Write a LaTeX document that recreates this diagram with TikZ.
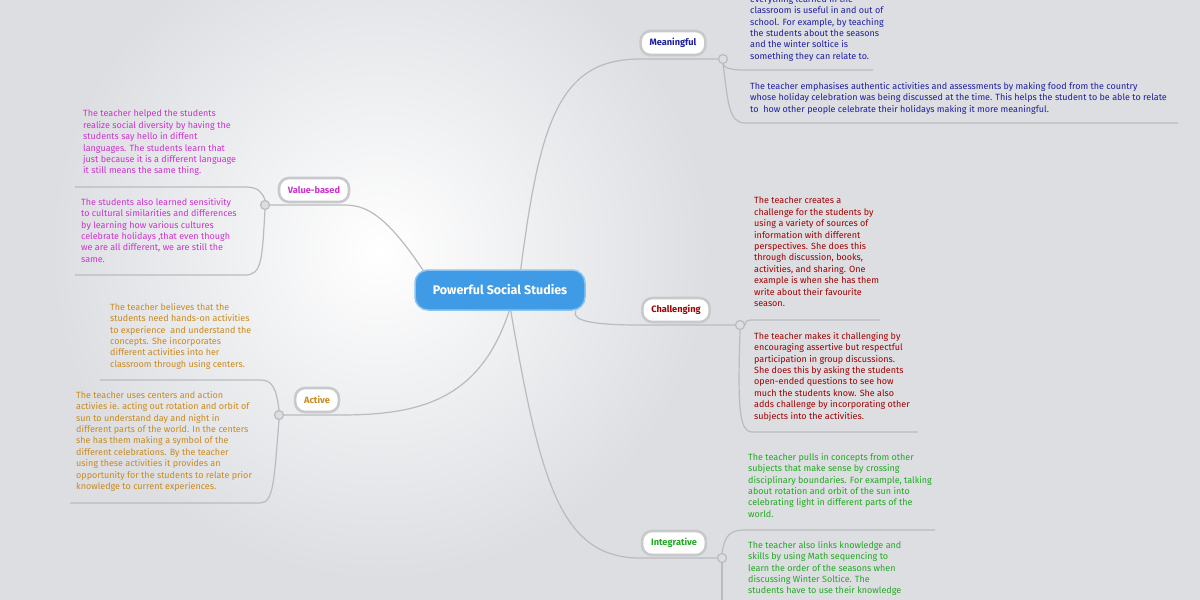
\documentclass[tikz,border=0pt]{standalone}
\usepackage{fontspec}
\setmainfont{Fira Sans}
\usetikzlibrary{shadows}
\definecolor{bgc}{HTML}{DCDEE2}
\definecolor{lnc}{HTML}{B9BBBE}
\definecolor{cmean}{HTML}{1E1EA0}
\definecolor{cval}{HTML}{CC33CC}
\definecolor{cact}{HTML}{C98A1E}
\definecolor{cchal}{HTML}{A00000}
\definecolor{cint}{HTML}{22A822}
\definecolor{cmain}{HTML}{3F9BE6}
\tikzset{
 topic/.style={draw=lnc!80, line width=2.6pt, fill=white, rounded corners=10pt, minimum height=24pt, inner xsep=9pt, font=\fontsize{9.2}{11}\selectfont\bfseries},
 txt/.style={align=left, anchor=north west, inner sep=0pt, font=\fontsize{9}{11.4}\selectfont},
 ln/.style={draw=lnc, line width=1.2pt},
 jc/.style={circle, draw=lnc, line width=1.2pt, fill=bgc, minimum size=9pt, inner sep=0pt},
}
\begin{document}
\begin{tikzpicture}[x=1pt,y=-1pt]
\useasboundingbox (0,0) rectangle (1200,600);
\clip (0,0) rectangle (1200,600);
\fill[bgc] (0,0) rectangle (1200,600);
\shade[inner color=white, outer color=bgc] (380,250) circle (330);
% central
\node[fill=cmain, draw=cmain!60!white, line width=1.5pt, rounded corners=13pt, minimum width=170pt, minimum height=40pt, text=white, font=\fontsize{12.5}{14}\selectfont\bfseries] (c) at (500,290) {Powerful Social Studies};
% topics
\node[topic, text=cmean] (m) at (673,43) {Meaningful};
\node[topic, text=cchal] (ch) at (676,310) {Challenging};
\node[topic, text=cint] (in) at (674,543) {Integrative};
\node[topic, text=cval] (v) at (314,190) {Value-based};
\node[topic, text=cact] (a) at (317,400) {Active};
% junctions
\node[jc] (jm) at (723,59) {};
\node[jc] (jch) at (740,325) {};
\node[jc] (jin) at (722,558) {};
\node[jc] (jv) at (265,205) {};
\node[jc] (ja) at (279,415) {};
% center to topics
\draw[ln] (c.north east) ++(-65,0) .. controls (540,120) and (560,59) .. (640,59) -- (jm.west);
\draw[ln] (c.south east) ++(-10,0) .. controls (570,322) and (600,325) .. (640,325) -- (jch.west);
\draw[ln] (c.south east) ++(-75,0) .. controls (540,480) and (560,558) .. (640,558) -- (jin.west);
\draw[ln] (c.west) ++(10,-18) .. controls (380,205) and (360,205) .. (340,205) -- (jv.east);
\draw[ln] (c.south west) ++(95,0) .. controls (480,400) and (420,415) .. (340,415) -- (ja.east);
% meaningful branches
\coordinate (m1) at (873,70); \coordinate (m2) at (1178,123);
\draw[ln] (jm.south) .. controls (725,68) and (730,70) .. (745,70) -- (m1);
\draw[ln] (jm.south) .. controls (728,100) and (728,123) .. (745,123) -- (m2);
\node[txt, text=cmean] (mt1) at (750,-5) {everything learned in the\\classroom is useful in and out of\\school. For example, by teaching\\the students about the seasons\\and the winter soltice is\\something they can relate to.};
\node[txt, text=cmean] (mt2) at (750,82) {The teacher emphasises authentic activities and assessments by making food from the country\\whose holiday celebration was being discussed at the time. This helps the student to be able to relate\\to\ \ how other people celebrate their holidays making it more meaningful.};
% challenging
\coordinate (c1) at (880,320); \coordinate (c2) at (918,432);
\draw[ln] (jch.east) .. controls (745,320) and (748,320) .. (755,320) -- (c1);
\draw[ln] (jch.south) .. controls (738,400) and (738,432) .. (752,432) -- (c2);
\node[txt, text=cchal] (ct1) at (754,197) {The teacher creates a\\challenge for the students by\\using a variety of sources of\\information with different\\perspectives. She does this\\through discussion, books,\\activities, and sharing. One\\example is when she has them\\write about their favourite\\season.};
\node[txt, text=cchal] (ct2) at (754,332) {The teacher makes it challenging by\\encouraging assertive but respectful\\participation in group discussions.\\She does this by asking the students\\open-ended questions to see how\\much the students know. She also\\adds challenge by incorporating other\\subjects into the activities.};
% integrative
\coordinate (i1) at (935,530);
\draw[ln] (jin.north) .. controls (725,535) and (730,530) .. (745,530) -- (i1);
\draw[ln] (jin.south) -- (722,610);
\node[txt, text=cint] (it1) at (748,453) {The teacher pulls in concepts from other\\subjects that make sense by crossing\\disciplinary boundaries. For example, talking\\about rotation and orbit of the sun into\\celebrating light in different parts of the\\world.};
\node[txt, text=cint] (it2) at (748,541) {The teacher also links knowledge and\\skills by using Math sequencing to\\learn the order of the seasons when\\discussing Winter Soltice. The\\students have to use their knowledge};
% value-based
\coordinate (v1) at (75,187); \coordinate (v2) at (75,275);
\draw[ln] (jv.north) .. controls (262,192) and (258,187) .. (245,187) -- (v1);
\draw[ln] (jv.south) .. controls (262,260) and (262,275) .. (245,275) -- (v2);
\node[txt, text=cval] (vt1) at (83,110) {The teacher helped the students\\realize social diversity by having the\\students say hello in diffent\\languages. The students learn that\\just because it is a different language\\it still means the same thing.};
\node[txt, text=cval] (vt2) at (81,198) {The students also learned sensitivity\\to cultural similarities and differences\\by learning how various cultures\\celebrate holidays ,that even though\\we are all different, we are still the\\same.};
% active
\coordinate (a1) at (100,380); \coordinate (a2) at (70,503);
\draw[ln] (ja.north) .. controls (276,387) and (272,380) .. (260,380) -- (a1);
\draw[ln] (ja.south) .. controls (274,480) and (274,503) .. (260,503) -- (a2);
\node[txt, text=cact] (at1) at (110,303) {The teacher believes that the\\students need hands-on activities\\to experience\ \ and understand the\\concepts. She incorporates\\different activities into her\\classroom through using centers.};
\node[txt, text=cact] (at2) at (76,391) {The teacher uses centers and action\\activies ie. acting out rotation and orbit of\\sun to understand day and night in\\different parts of the world. In the centers\\she has them making a symbol of the\\different celebrations. By the teacher\\using these activities it provides an\\opportunity for the students to relate prior\\knowledge to current experiences.};
\end{tikzpicture}
\end{document}
